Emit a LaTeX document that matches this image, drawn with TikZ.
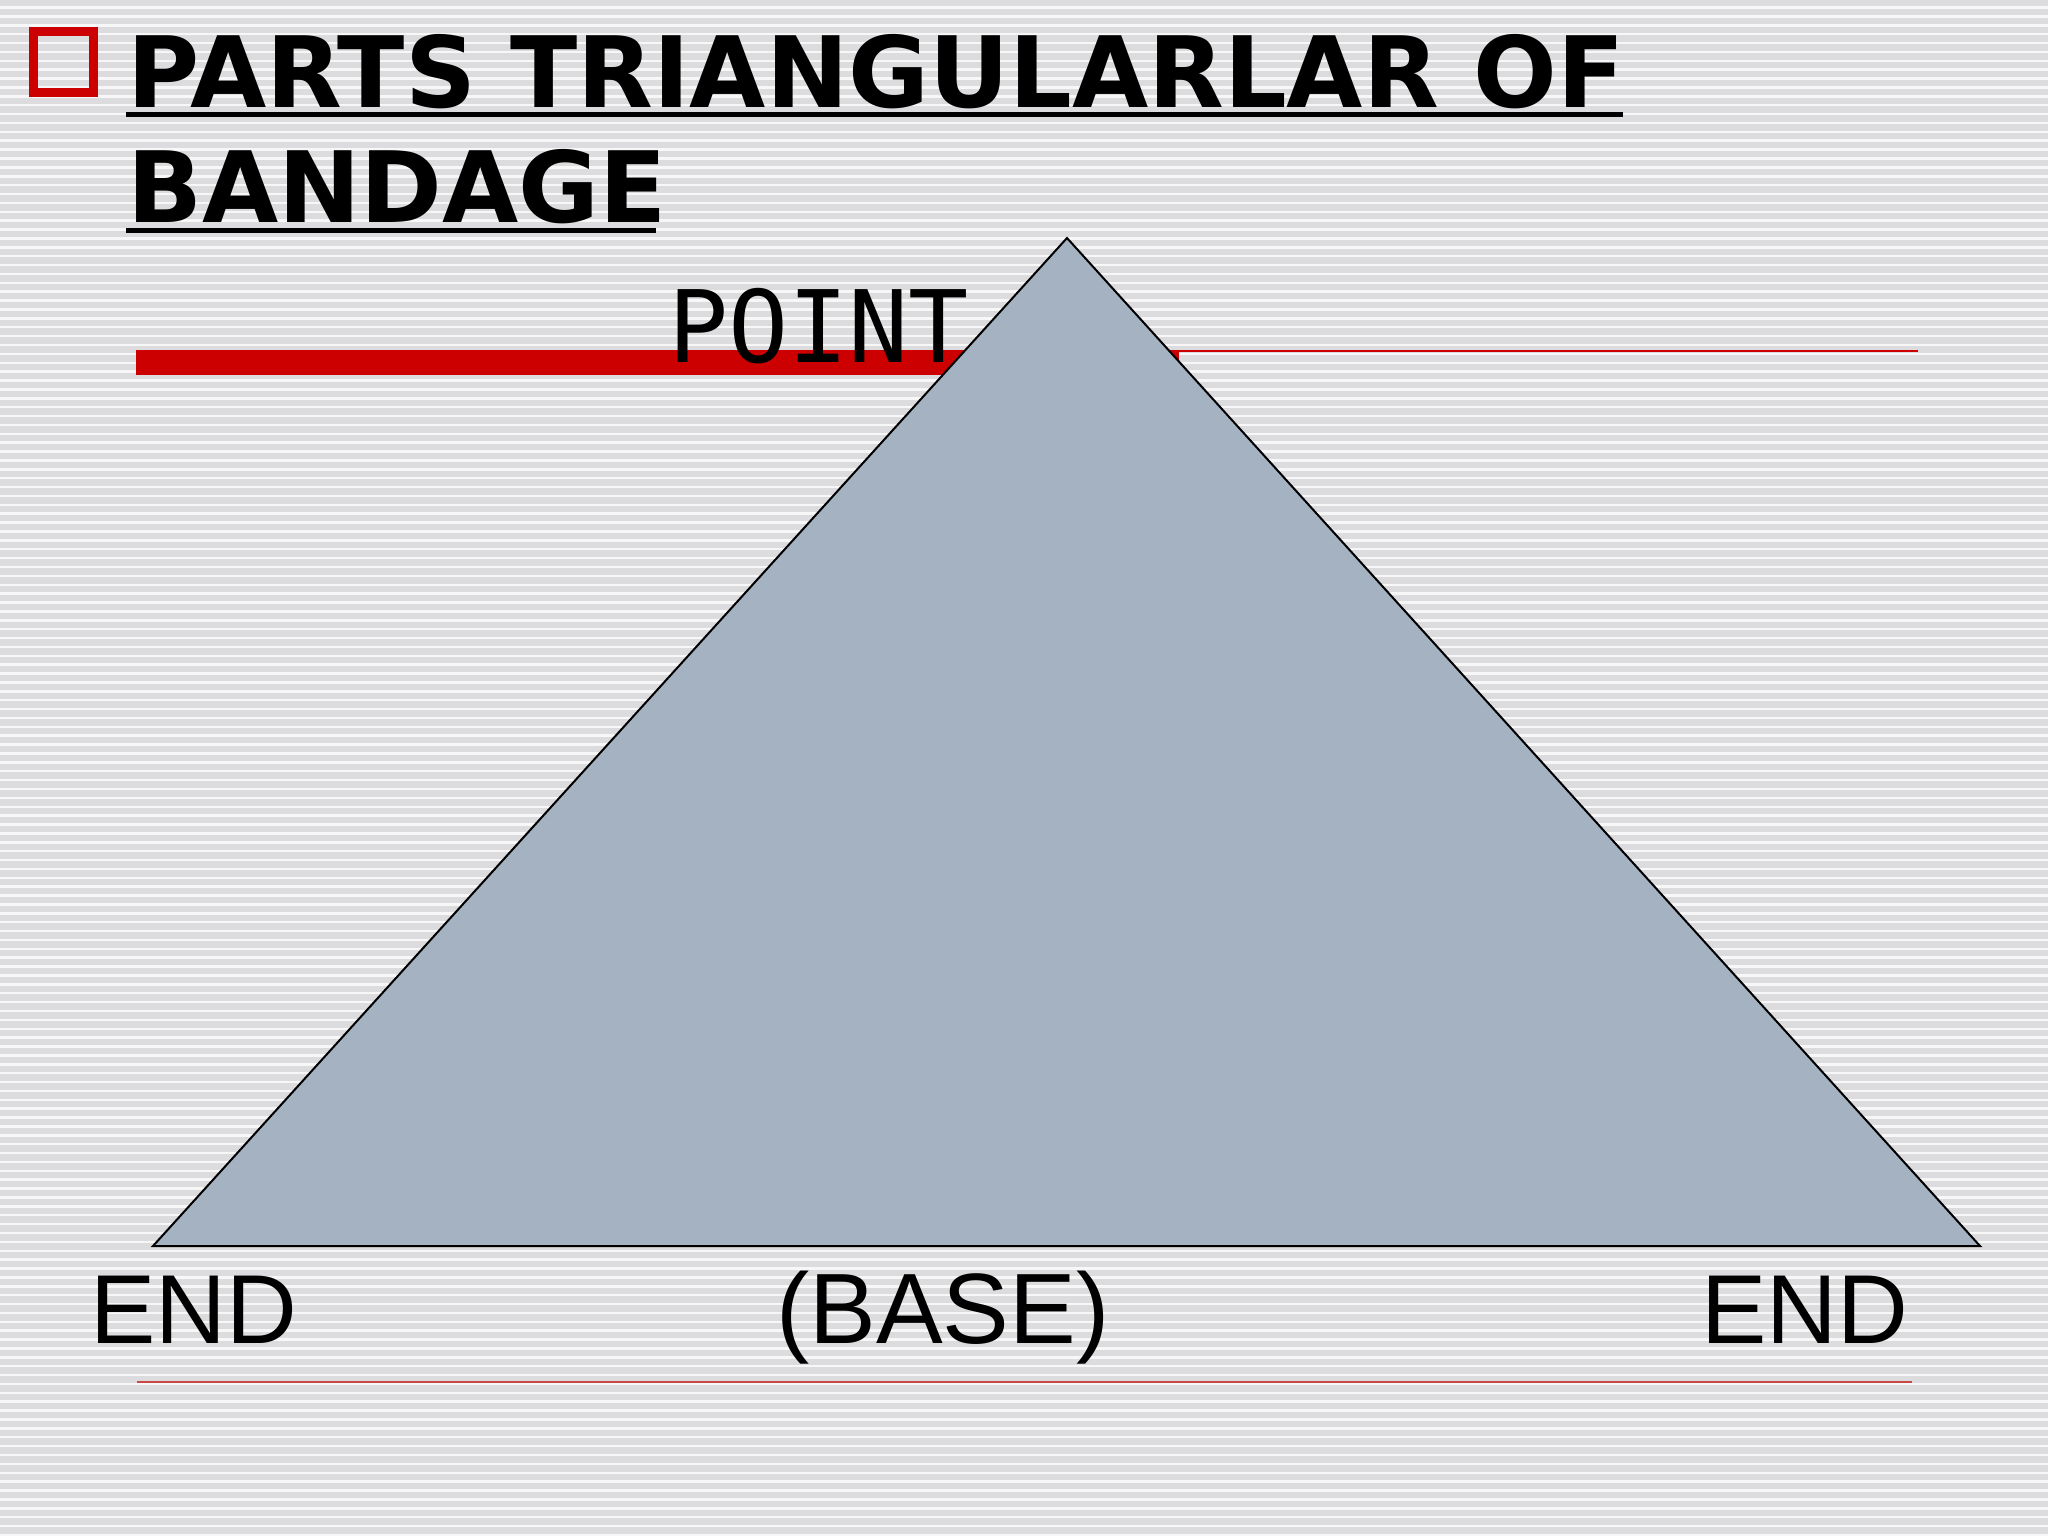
\documentclass[tikz,border=0pt]{standalone}
\usepackage{fontspec}
\newfontfamily\titlefont{DejaVu Sans}
\newfontfamily\pointfont{DejaVu Sans Mono}
\newfontfamily\labelfont{Liberation Sans}
\definecolor{bggray}{HTML}{DCDCDF}
\definecolor{stripe}{HTML}{F7F7F7}
\definecolor{slidered}{HTML}{CC0000}
\definecolor{thinred}{HTML}{C84848}
\definecolor{bandage}{HTML}{A4B2C1}
\tikzset{
  txt/.style={inner sep=0pt, outer sep=0pt, anchor=base west, text=black},
  titletxt/.style={txt, font=\titlefont\bfseries\fontsize{98.5}{100}\selectfont},
  pointtxt/.style={txt, font=\pointfont\fontsize{100}{100}\selectfont},
  labeltxt/.style={txt, font=\labelfont\fontsize{98}{100}\selectfont},
  basetxt/.style={txt, font=\labelfont\fontsize{100}{100}\selectfont},
  uline/.style={line width=5pt, black},
}
\begin{document}
\begin{tikzpicture}[x=1pt,y=-1pt]
\useasboundingbox (0,0) rectangle (2048,1536);
% background
\fill[bggray] (0,0) rectangle (2048,1536);
\foreach \k in {0,...,173} {
  \fill[stripe] (0,{6.3+\k*8.88}) rectangle (2048,{8.8+\k*8.88});
}
% bullet
\draw[slidered, line width=9pt] (33.5,31.5) rectangle (93.5,92.5);
% title
\node[titletxt] (t1) at (127,108) {PARTS TRIANGULARLAR OF};
\node[titletxt] (t2) at (127,222) {BANDAGE};
\draw[uline] (126,115) -- (1623,115);
\draw[uline] (126,230) -- (656,230);
% red bars
\fill[slidered] (136,350) rectangle (1179,375);
\draw[slidered, line width=2pt] (1179,351) -- (1918,351);
% point label
\node[pointtxt] (point) at (668,362) {POINT};
% triangle
\coordinate (apex) at (1067,238);
\coordinate (bl) at (153,1246);
\coordinate (br) at (1980,1246);
\filldraw[fill=bandage, draw=black, line width=2pt, line join=miter] (apex) -- (bl) -- (br) -- cycle;
% labels
\node[labeltxt] (endl) at (90,1343) {END};
\node[basetxt] (base) at (776,1343) {(BASE)};
\node[labeltxt] (endr) at (1701,1343) {END};
% bottom line
\draw[thinred, line width=1.5pt] (137,1382) -- (1912,1382);
\end{tikzpicture}
\end{document}
